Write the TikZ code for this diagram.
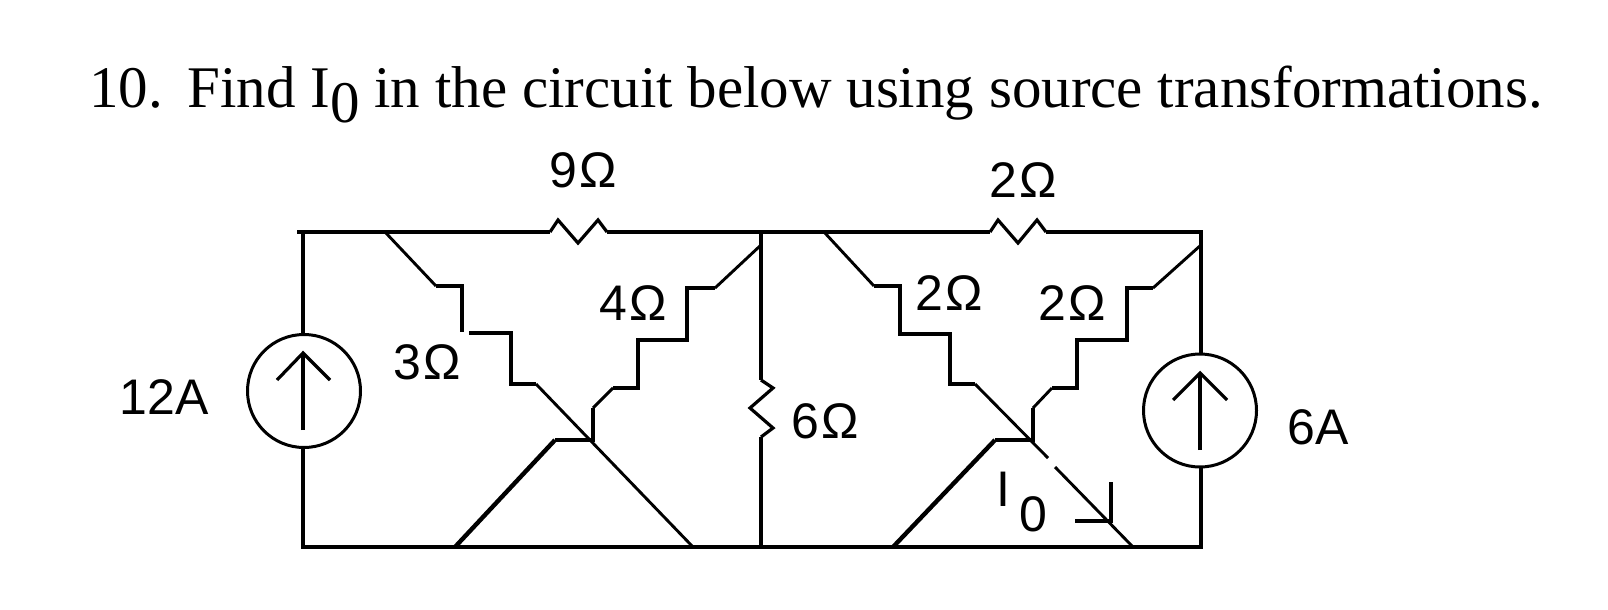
\documentclass[tikz,border=0pt]{standalone}
\usepackage{fontspec}
\setmainfont{Liberation Serif}
\newfontfamily\labfont{Liberation Sans}
\newcommand{\ohm}[1]{#1\kern2.5ptΩ}
\tikzset{
  x=1pt,y=-1pt,
  wire/.style={line width=3.4pt,black,line join=miter},
  thin wire/.style={line width=3.2pt,black,line join=miter},
  diag/.style={line width=2.9pt,black},
  heavy/.style={line width=4.4pt,black},
  srcnode/.style={circle,draw=black,line width=3pt,minimum size=113pt,inner sep=0pt,outer sep=0pt},
  lab/.style={font=\labfont\fontsize{50}{50}\selectfont,inner sep=0pt,text=black},
  titletext/.style={font=\fontsize{59}{59}\selectfont,inner sep=0pt,anchor=base west,text=black}
}
\begin{document}
\begin{tikzpicture}
\useasboundingbox (0,0) rectangle (1608,610);
\node[titletext] (title) at (89,107) {10.\hspace{0.42em}Find I\raisebox{-15pt}{0} in the circuit below using source transformations.};

% junctions
\coordinate (TL) at (303,232);
\coordinate (BL) at (303,547);
\coordinate (TM) at (761,232);
\coordinate (BM) at (761,547);
\coordinate (TR) at (1201,232);
\coordinate (BR) at (1201,547);
\coordinate (A1) at (385,232);
\coordinate (A2) at (693,547);
\coordinate (A3) at (455,547);
\coordinate (A4) at (761,245);
\coordinate (C1) at (824,232);
\coordinate (C2) at (1133,547);
\coordinate (C3) at (893,547);
\coordinate (C4) at (1201,245);
\coordinate (R9a) at (550,232);
\coordinate (R9b) at (607,232);
\coordinate (R2a) at (990,232);
\coordinate (R2b) at (1046,232);
\coordinate (R6a) at (761,380);
\coordinate (R6b) at (761,437);
\coordinate (I1) at (1055,467);
\coordinate (Itip) at (1111,521);
\coordinate (I2) at (1048,458);

% sources
\node[srcnode] (SL) at (304,391) {};
\node[srcnode] (SR) at (1200,410.5) {};
\coordinate (SLt) at (303,353);
\coordinate (SLb) at (303,430);
\coordinate (SRt) at (1200,373);
\coordinate (SRb) at (1200,450);

% outer wires
\draw[wire] (297,232) -- (R9a);
\draw[wire] (R9b) -- (TM) -- (R2a);
\draw[wire] (R2b) -- (TR) -- (1201,353);
\draw[wire] (TL) -- (303,333);
\draw[wire] (303,449) -- (BL) -- (BR) -- (1201,468);
\draw[wire] (TM) -- (R6a);
\draw[wire] (R6b) -- (BM);

% resistors
\draw[thin wire] (R9a) -- (558,220) -- (578,243) -- (598,220) -- (R9b);
\draw[thin wire] (R2a) -- (998,220) -- (1018,243) -- (1037,220) -- (R2b);
\draw[thin wire] (R6a) -- (773,388) -- (750,408) -- (773,428) -- (R6b);

% left lattice
\draw[diag] (A1) -- (436,286);
\draw[thin wire] (436,286) -- (462,286) -- (462,332);
\draw[thin wire] (469,333) -- (511,333) -- (511,384) -- (536,384);
\draw[diag] (536,384) -- (A2);
\draw[diag] (A4) -- (715,288);
\draw[thin wire] (715,288) -- (687,288) -- (687,340) -- (638,340) -- (638,388) -- (613,388);
\draw[diag] (613,388) -- (593,408);
\draw[thin wire] (593,408) -- (593,440) -- (555,440);
\draw[heavy] (555,440) -- (A3);

% right lattice
\draw[diag] (C1) -- (874,286);
\draw[thin wire] (874,286) -- (900,286) -- (900,334) -- (950,334) -- (950,384) -- (975,384);
\draw[diag] (975,384) -- (I2);
\draw[diag] (I1) -- (C2);
\draw[diag] (C4) -- (1153,288);
\draw[thin wire] (1153,288) -- (1127,288) -- (1127,340) -- (1077,340) -- (1077,388) -- (1052,388);
\draw[diag] (1052,388) -- (1033,408);
\draw[thin wire] (1033,408) -- (1033,440) -- (995,440);
\draw[heavy] (995,440) -- (C3);

% current arrow
\draw[thin wire] (1111,482) -- (Itip) -- (1075,521);

% source arrows
\draw[thin wire] (SLb) -- (SLt);
\draw[thin wire] (277,380) -- (SLt) -- (330,380);
\draw[thin wire] (SRb) -- (SRt);
\draw[thin wire] (1173,400) -- (SRt) -- (1227,400);

% labels
\node[lab] (l9) at (583,170) {\ohm{9}};
\node[lab] (l2t) at (1023,180) {\ohm{2}};
\node[lab] (l3) at (427,362) {\ohm{3}};
\node[lab] (l4) at (633,303) {\ohm{4}};
\node[lab] (l6) at (825,421) {\ohm{6}};
\node[lab] (l2a) at (949,293) {\ohm{2}};
\node[lab] (l2b) at (1072,303) {\ohm{2}};
\node[lab] (l12) at (164,397) {12A};
\node[lab] (l6a) at (1318,427) {6A};
\node[lab] (lI) at (1021.5,502) {I\hspace{9pt}\raisebox{-25pt}{0}};
\end{tikzpicture}
\end{document}
